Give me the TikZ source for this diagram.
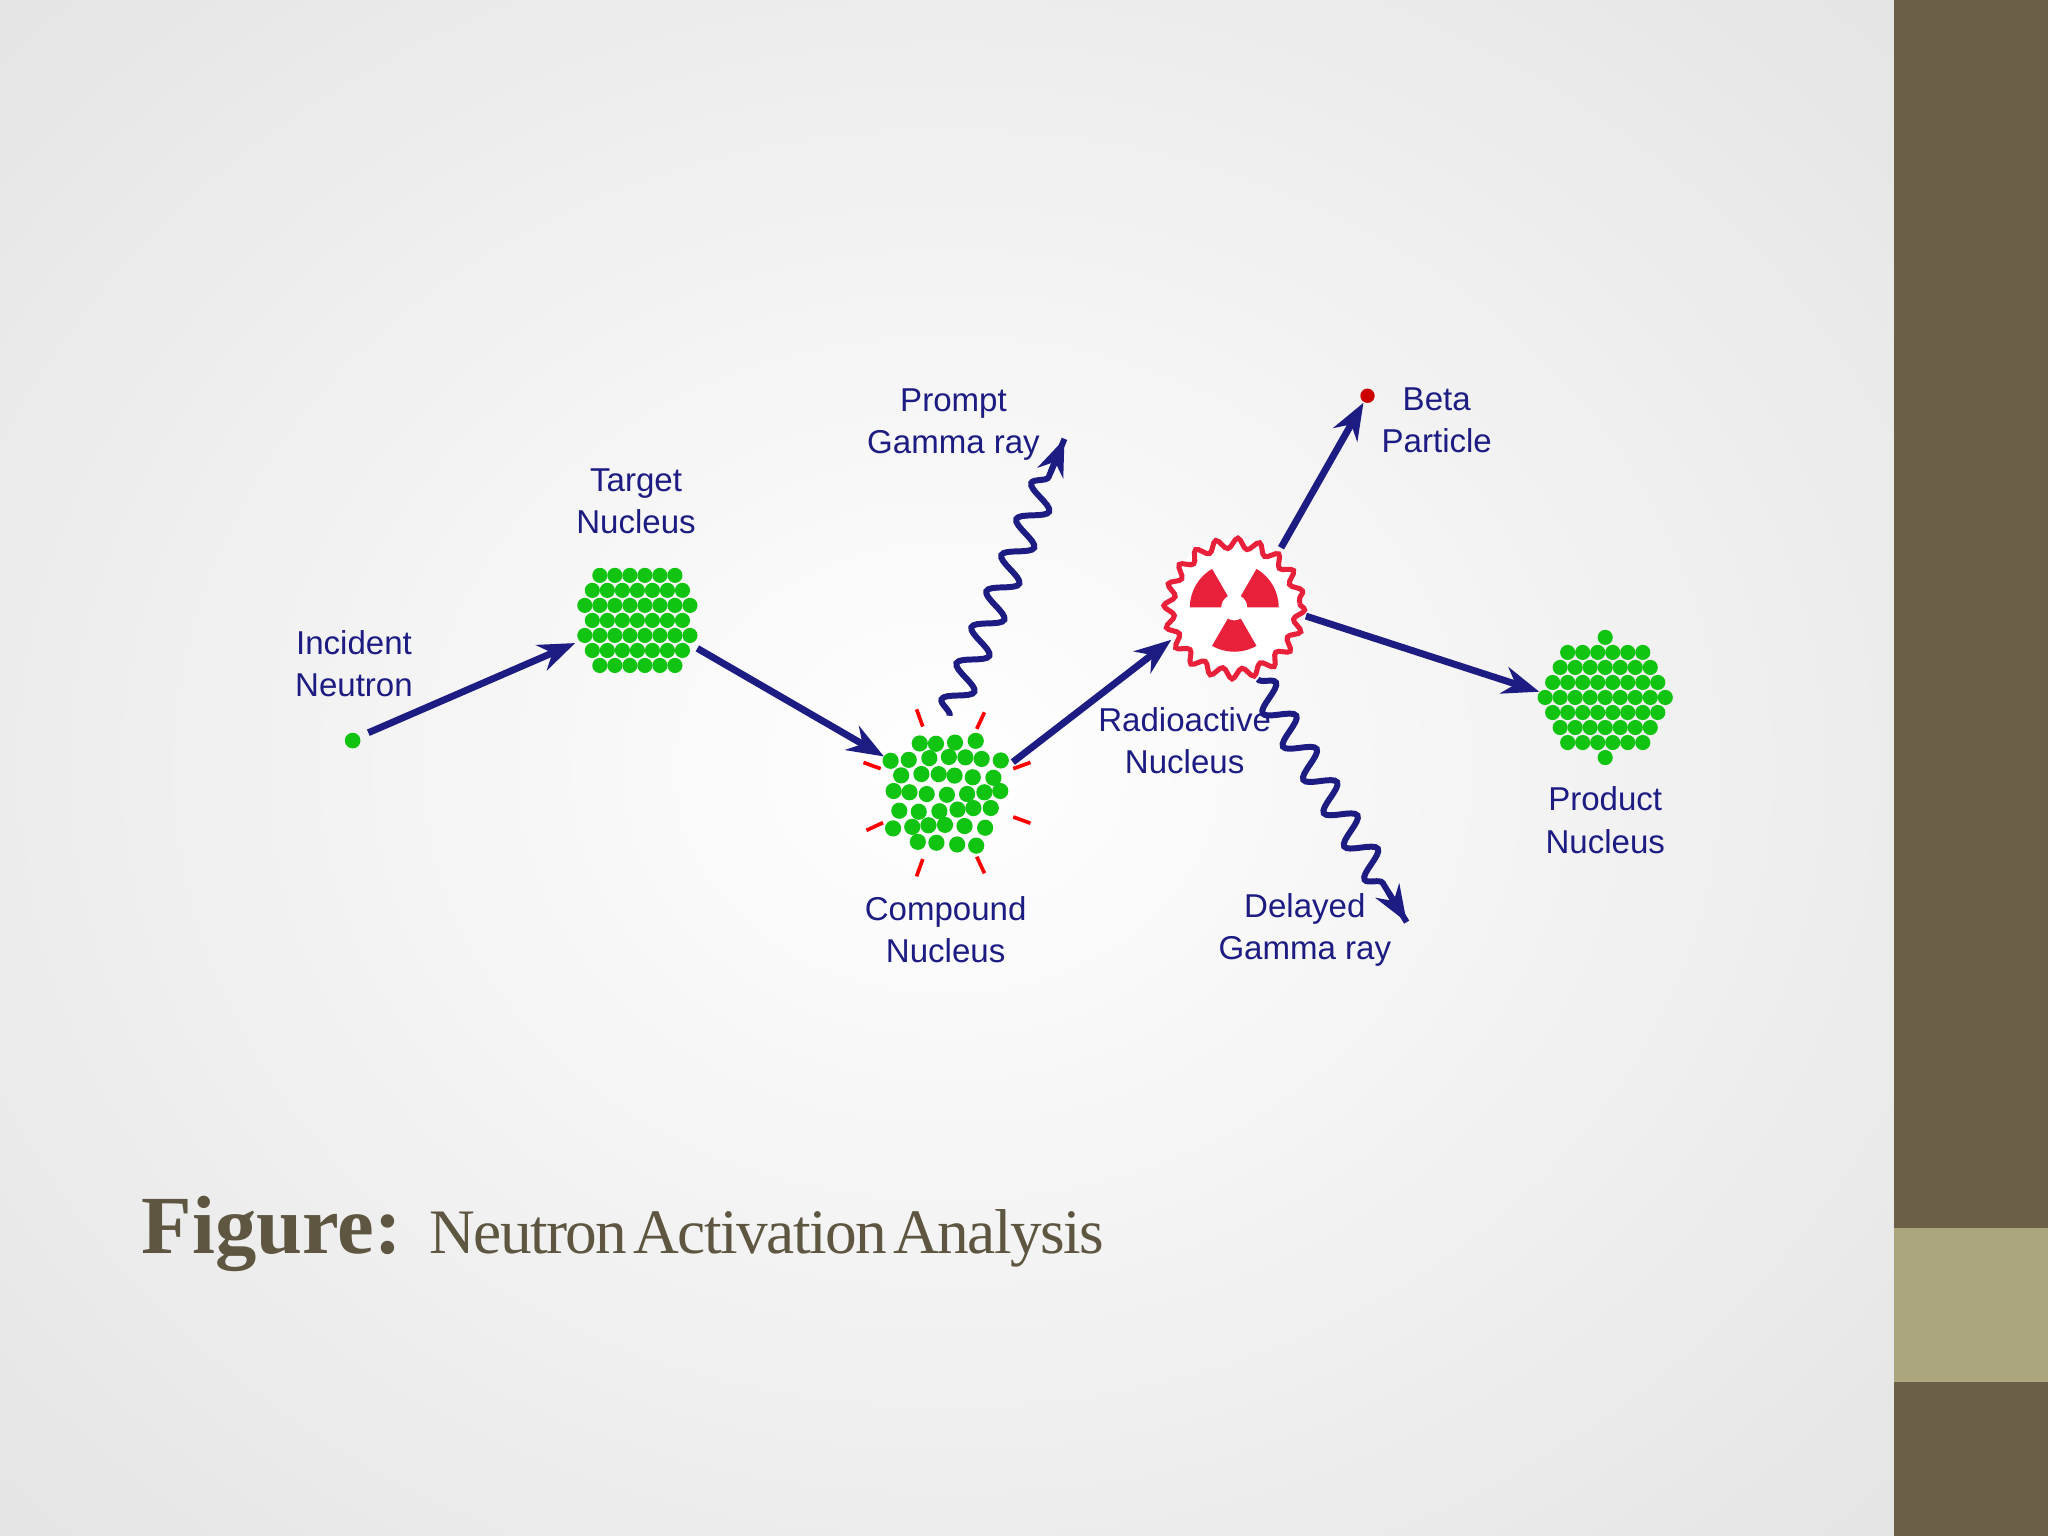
\documentclass[tikz,border=0pt]{standalone}
\usepackage{fontspec}
\setmainfont{Liberation Serif}
\newfontfamily\labfont{Liberation Sans}
\newfontfamily\capfont[LetterSpace=-2.5]{Liberation Serif}
\usetikzlibrary{arrows.meta,decorations.pathmorphing,shapes.geometric,calc}
\definecolor{navy}{HTML}{1C1C82}
\definecolor{nucg}{HTML}{12C412}
\definecolor{barbrown}{HTML}{6B5F48}
\definecolor{barlight}{HTML}{ABA67E}
\definecolor{capcol}{HTML}{5E5640}
\definecolor{radred}{HTML}{E8203A}
\tikzset{
  lab/.style={font=\labfont\fontsize{7.2}{9.2}\selectfont, text=navy, align=center, inner sep=0pt},
  arr/.style={navy, line width=1.5pt, -{Stealth[length=8pt,width=6pt]}},
  wav/.style={navy, line width=1.3pt, decorate, decoration={snake, amplitude=3pt, segment length=8.5pt, post length=7pt}},
  wavtip/.style={navy, line width=1.3pt, -{Stealth[length=8pt,width=6pt]}},
  pt/.style={circle, fill=#1, inner sep=0pt, minimum size=0pt},
}
\begin{document}
\begin{tikzpicture}[x=0.1mm,y=-0.1mm]
\useasboundingbox (0,0) rectangle (1568,1176);
\shade[inner color=white, outer color=gray!22] (-350,-300) rectangle (1800,1476);
\fill[barbrown] (1450,0) rectangle (1568,1176);
\fill[barlight] (1450,940) rectangle (1568,1058);

% target nucleus
\foreach \i in {-4,...,4}{\foreach \j in {-4,...,4}{
  \pgfmathsetmacro\xx{\i*11.5+mod(\j+8,2)*5.75}
  \pgfmathsetmacro\yy{\j*11.5}
  \pgfmathtruncatemacro\ok{(\xx*\xx+\yy*\yy)<(46*46)}
  \ifnum\ok=1 \fill[nucg] (488+\xx,475+\yy) circle (5.8);\fi}}
\node[circle, minimum size=100*0.01cm, inner sep=0pt] (target) at (488,475) {};
% product nucleus
\foreach \i in {-4,...,4}{\foreach \j in {-4,...,4}{
  \pgfmathsetmacro\xx{\i*11.5+mod(\j+8,2)*5.75}
  \pgfmathsetmacro\yy{\j*11.5}
  \pgfmathtruncatemacro\ok{(\xx*\xx+\yy*\yy)<(47*47)}
  \ifnum\ok=1 \fill[nucg] (1229+\xx,534+\yy) circle (5.8);\fi}}
\node[circle, minimum size=100*0.01cm, inner sep=0pt] (product) at (1229,534) {};
% compound nucleus
\foreach \i in {-4,...,4}{\foreach \j in {-4,...,4}{
  \pgfmathsetmacro\xx{\i*14+mod(\j+8,2)*7+1.5*sin(\i*77+\j*131)}
  \pgfmathsetmacro\yy{\j*13+1.5*cos(\i*53+\j*97)}
  \pgfmathtruncatemacro\ok{(\xx*\xx+\yy*\yy)<(50*50)}
  \ifnum\ok=1 \fill[nucg] (725+\xx,607+\yy) circle (6.2);\fi}}
\foreach \a in {20,65,110,155,200,250,295,340}
  \draw[red, line width=0.8pt] (725,607) ++(\a:54) -- ++(\a:14);
\node[circle, minimum size=110*0.01cm, inner sep=0pt] (compound) at (725,607) {};
% radioactive nucleus
\fill[white] (945,462) circle (50);
\draw[radred, line width=1.1pt, decorate, decoration={snake, amplitude=1.1pt, segment length=4.5pt}] (945,462) circle (50);
\foreach \a in {90,210,330}
  \fill[radred] (945,465) ++(\a-30:10) -- ++(\a-30:24) arc[start angle=\a-30,end angle=\a+30,radius=34] -- ++(\a+30:-24) arc[start angle=\a+30,end angle=\a-30,radius=10] -- cycle;
\node[circle, minimum size=110*0.01cm, inner sep=0pt] (radio) at (945,462) {};

\node[pt=nucg, minimum size=12*0.01cm] (neutron) at (270,567) {};
\node[pt=red!80!black, minimum size=11*0.01cm] (beta) at (1047,303) {};
\coordinate (pg) at (815,336);
\coordinate (dg) at (1077,706);
\coordinate (pgs) at (727,548);
\coordinate (dgs) at (963,520);

\draw[arr] (neutron) ++(12,-6) -- (target.200);
\draw[arr] (target.-25) -- (compound.150);
\draw[arr] (compound.25) -- (radio.210);
\draw[arr] (radio.50) -- (beta.240);
\draw[arr] (radio.-10) -- (product.175);
\draw[wav] (pgs) -- (pg);
\draw[wavtip] ($(pgs)!0.88!(pg)$) -- (pg);
\draw[wav] (dgs) -- (dg);
\draw[wavtip] ($(dgs)!0.88!(dg)$) -- (dg);

\node[lab] (lneu) at (271,508) {Incident\\Neutron};
\node[lab] (ltar) at (487,384) {Target\\Nucleus};
\node[lab] (lcomp) at (724,712) {Compound\\Nucleus};
\node[lab] (lpg) at (730,325) {Prompt\\Gamma ray};
\node[lab] (lrad) at (907,567) {Radioactive\\Nucleus};
\node[lab] (lbeta) at (1100,322) {Beta\\Particle};
\node[lab] (lprod) at (1229,628) {Product\\Nucleus};
\node[lab] (ldg) at (999,712) {Delayed\\Gamma ray};

\node[anchor=base west, inner sep=0pt, text=capcol, font=\fontsize{18}{22}\selectfont\bfseries] (fig) at (108,960) {Figure:};
\node[anchor=base west, inner sep=0pt, text=capcol, font=\capfont\fontsize{13.8}{16}\selectfont] (cap) at (328,960) {\spaceskip=0.1em Neutron Activation Analysis};
\end{tikzpicture}
\end{document}
